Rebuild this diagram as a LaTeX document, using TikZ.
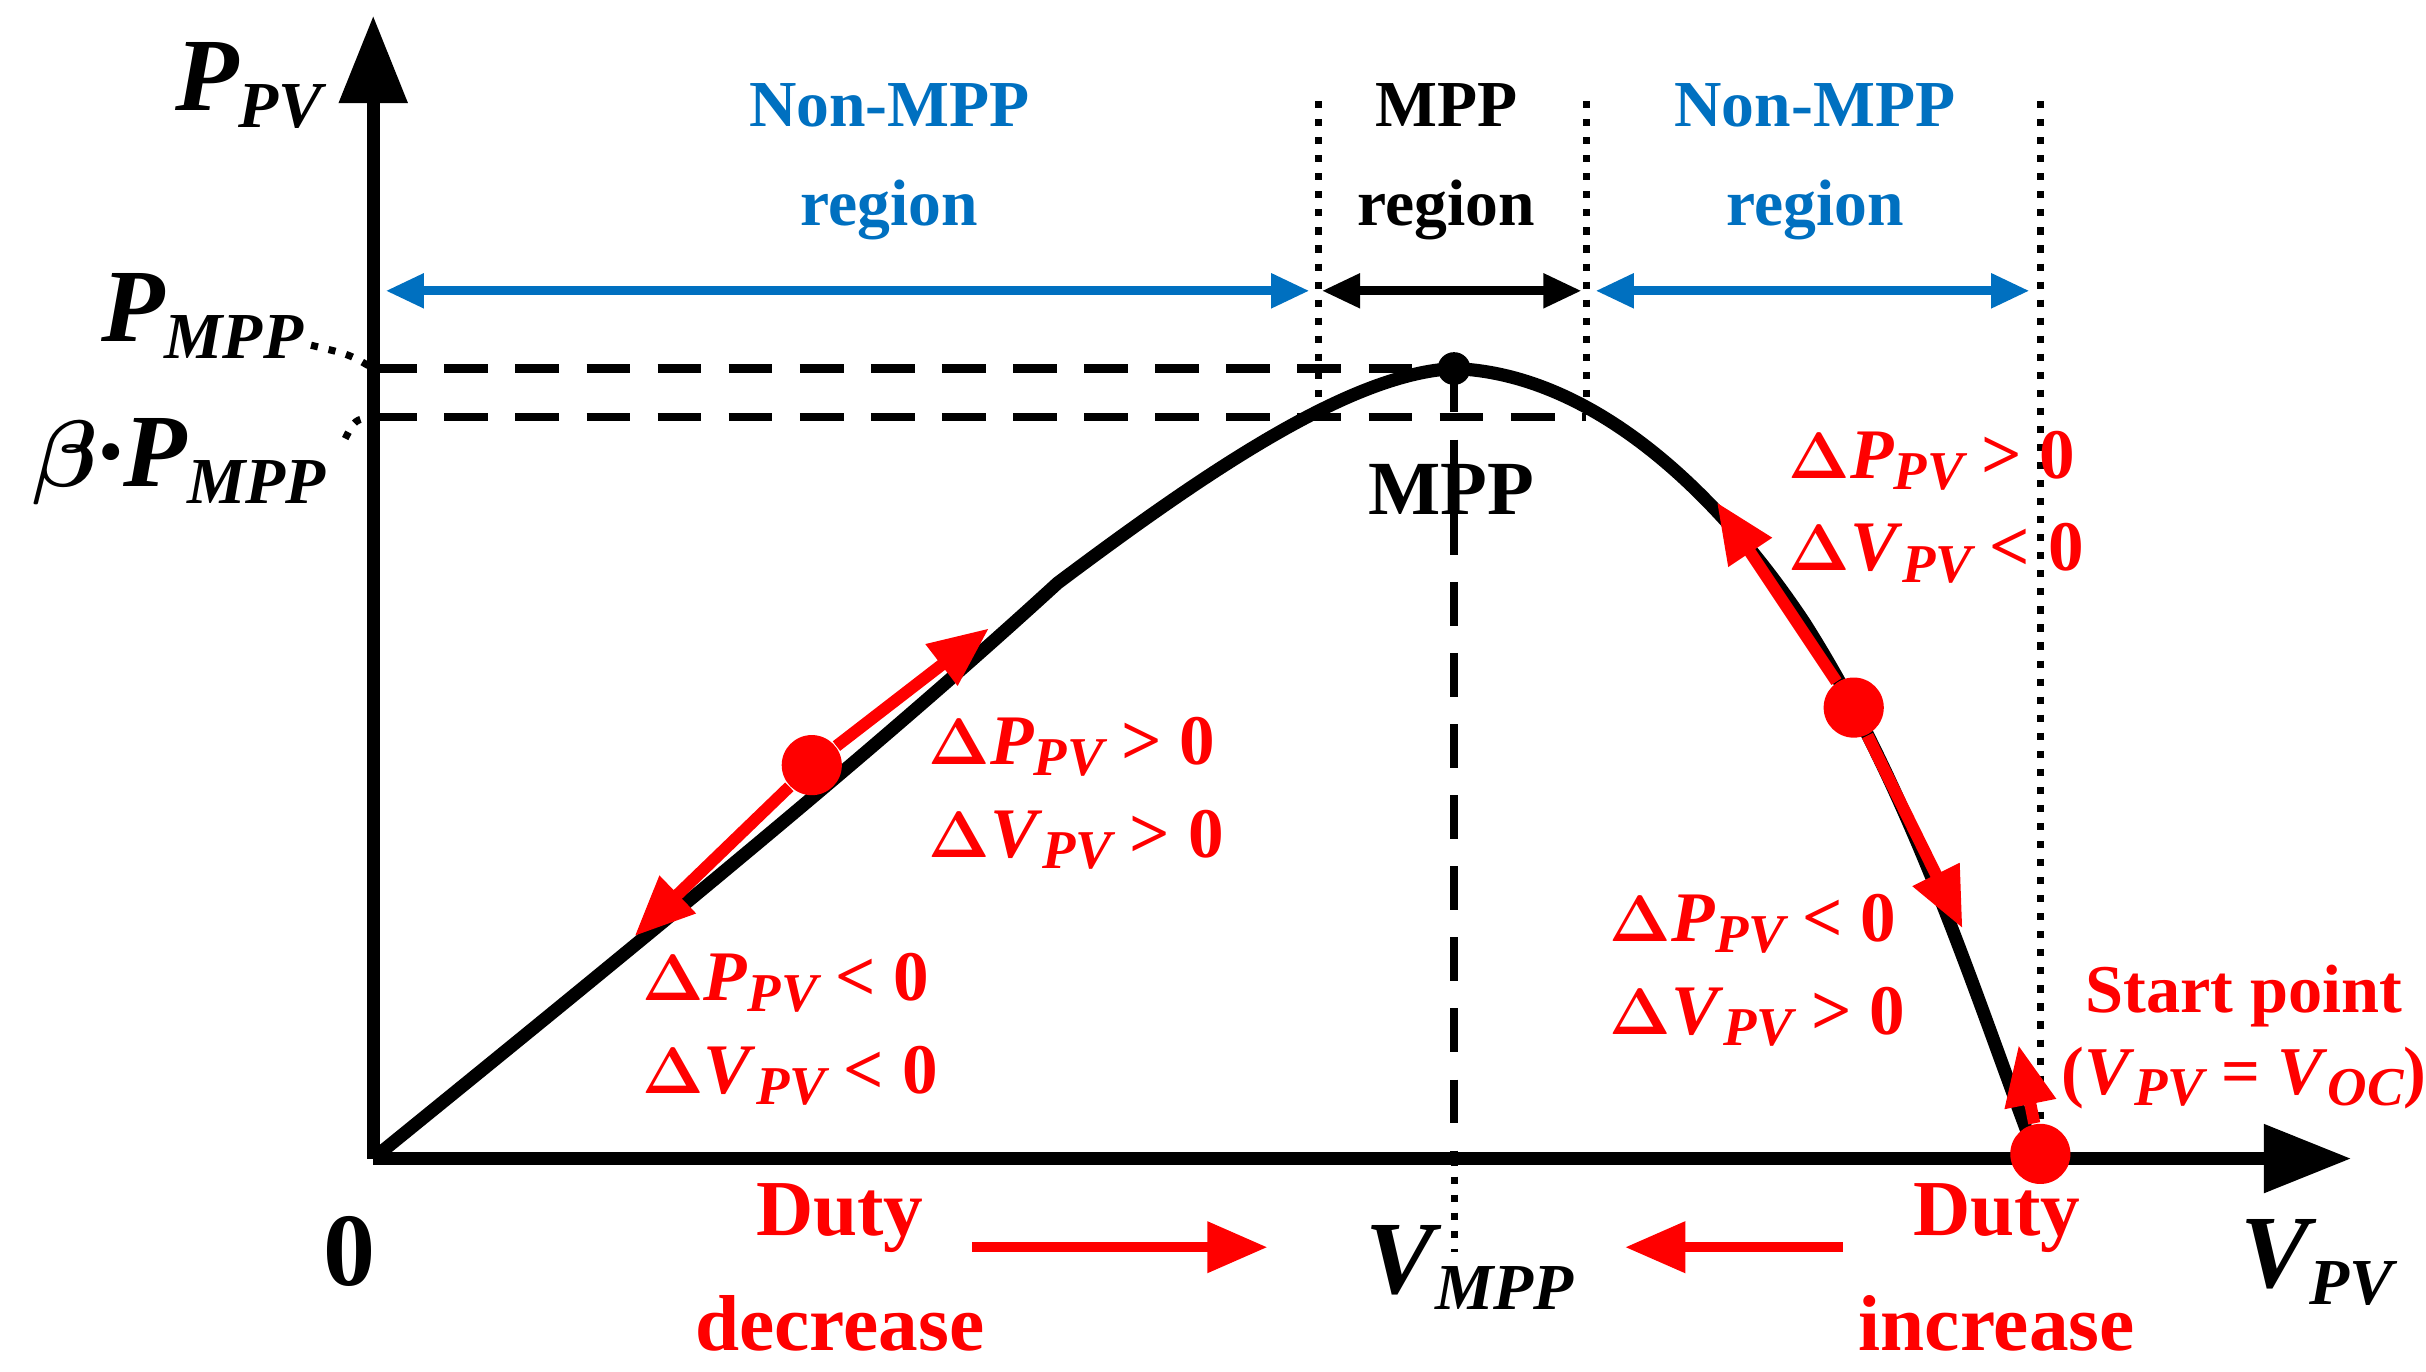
\documentclass[tikz,border=0pt]{standalone}
\usepackage{amsmath}
\usepackage{fontspec}
\setmainfont{Liberation Serif}
\usetikzlibrary{arrows.meta}
\definecolor{myblue}{RGB}{0,112,192}
\definecolor{myred}{RGB}{255,0,0}
\begin{document}
\begin{tikzpicture}[x=0.01cm,y=-0.01cm,
  lbl/.style={font=\bfseries\fontsize{12}{14}\selectfont,align=center,inner sep=0},
  big/.style={font=\bfseries\itshape\fontsize{19}{22}\selectfont,inner sep=0},
  rlbl/.style={font=\bfseries\fontsize{13}{17}\selectfont,text=myred,align=left,inner sep=0},
  harrow/.style={line width=1.6pt,{Triangle[length=7pt,width=6pt]}-{Triangle[length=7pt,width=6pt]}},
  redarr/.style={myred,line width=2.2pt,-{Triangle[length=11pt,width=9pt]}},
  dot/.style={circle,fill=#1,inner sep=0,minimum size=#1}]
\useasboundingbox (0,0) rectangle (1560,882);
% axes
\coordinate (O) at (240,745);
\coordinate (Ytop) at (240,10);
\coordinate (Xend) at (1512,745);
\draw[line width=2.4pt,-{Triangle[length=16pt,width=12pt]}] (O) -- (Ytop);
\draw[line width=2.4pt,-{Triangle[length=16pt,width=12pt]}] (O) -- (Xend);
% dotted verticals
\draw[dotted,line width=1.3pt] (848,65) -- (848,268);
\draw[dotted,line width=1.3pt] (1020,65) -- (1020,268);
\draw[dotted,line width=1.3pt] (1312,65) -- (1312,745);
% dashed
\draw[line width=1.5pt,dash pattern=on 8pt off 5pt] (240,237) -- (935,237);
\draw[line width=1.5pt,dash pattern=on 8pt off 5pt] (240,268) -- (1020,268);
\draw[line width=1.5pt,dash pattern=on 8pt off 5pt] (935,237) -- (935,745);
\draw[dotted,line width=1.3pt] (935,745) -- (935,805);
% curve
\draw[line width=2.4pt] (240,745) .. controls (400,615) and (560,485) .. (680,375)
  .. controls (780,300) and (870,240) .. (935,237)
  .. controls (1020,240) and (1100,310) .. (1160,400)
  .. controls (1230,510) and (1270,640) .. (1310,745);
\node[circle,fill=black,inner sep=0,minimum size=6pt] (mpp) at (935,237) {};
% region arrows
\draw[harrow,myblue] (248,187) -- (842,187);
\draw[harrow] (850,187) -- (1017,187);
\draw[harrow,myblue] (1026,187) -- (1305,187);
\node[lbl,text=myblue] (r1) at (572,104) {Non-MPP\\[4pt]region};
\node[lbl] (r2) at (930,104) {MPP\\[4pt]region};
\node[lbl,text=myblue] (r3) at (1167,104) {Non-MPP\\[4pt]region};
% axis labels
\node[big] (ppv) at (160,55) {P\raisebox{-0.35ex}{\fontsize{12}{14}\selectfont PV}};
\node[big] (pmpp) at (130,203) {P\raisebox{-0.35ex}{\fontsize{12}{14}\selectfont MPP}};
\node[big] (bpmpp) at (115,297) {$\boldsymbol{\beta}$\textperiodcentered P\raisebox{-0.35ex}{\fontsize{12}{14}\selectfont MPP}};
\draw[dotted,line width=1.3pt] (200,222) .. controls (225,228) .. (240,237);
\draw[dotted,line width=1.3pt] (222,282) .. controls (228,270) .. (240,268);
\node[font=\bfseries\fontsize{19}{22}\selectfont,inner sep=0] (zero) at (225,805) {0};
\node[big] (vmpp) at (945,815) {V\raisebox{-0.35ex}{\fontsize{12}{14}\selectfont MPP}};
\node[big] (vpv) at (1490,812) {V\raisebox{-0.35ex}{\fontsize{12}{14}\selectfont PV}};
\node[font=\bfseries\fontsize{14}{16}\selectfont,inner sep=0] (mpplbl) at (933,315) {MPP};
% red arrows
\node[circle,fill=myred,inner sep=0,minimum size=11pt] (d1) at (522,492) {};
\coordinate (a1) at (636,404);
\coordinate (a2) at (408,602);
\draw[redarr] (d1) -- (a1);
\draw[redarr] (d1) -- (a2);
\node[circle,fill=myred,inner sep=0,minimum size=11pt] (d2) at (1192,455) {};
\coordinate (a3) at (1104,323);
\coordinate (a4) at (1262,597);
\draw[redarr] (d2) -- (a3);
\draw[redarr] (d2) -- (a4);
\node[circle,fill=myred,inner sep=0,minimum size=11pt] (d3) at (1312,742) {};
\coordinate (a5) at (1298,672);
\draw[redarr] (d3) -- (a5);
% red labels
\newcommand{\sbx}[1]{\raisebox{-0.35ex}{\itshape\fontsize{10}{12}\selectfont #1}}
\newcommand{\dlt}{$\boldsymbol{\Delta}$}
\node[rlbl] (t1) at (692,510) {\dlt\textit{P}\sbx{PV} > 0\\[0pt]\dlt\textit{V}\sbx{PV} > 0};
\node[rlbl] (t2) at (508,662) {\dlt\textit{P}\sbx{PV} < 0\\[0pt]\dlt\textit{V}\sbx{PV} < 0};
\node[rlbl] (t3) at (1245,326) {\dlt\textit{P}\sbx{PV} > 0\\[0pt]\dlt\textit{V}\sbx{PV} < 0};
\node[rlbl] (t4) at (1130,624) {\dlt\textit{P}\sbx{PV} < 0\\[0pt]\dlt\textit{V}\sbx{PV} > 0};
\node[font=\bfseries\fontsize{12.5}{15}\selectfont,text=myred,align=center,inner sep=0] (sp) at (1443,667) {Start point\\(\textit{V}\sbx{PV} = \textit{V}\sbx{OC})};
\node[font=\bfseries\fontsize{14.5}{17}\selectfont,text=myred,align=center,inner sep=0] (dd) at (540,815) {Duty\\[4pt]decrease};
\node[font=\bfseries\fontsize{14.5}{17}\selectfont,text=myred,align=center,inner sep=0] (di) at (1284,815) {Duty\\[4pt]increase};
\coordinate (b1) at (625,802); \coordinate (b2) at (815,802);
\coordinate (b3) at (1185,802); \coordinate (b4) at (1045,802);
\draw[redarr,line width=1.8pt] (b1) -- (b2);
\draw[redarr,line width=1.8pt] (b3) -- (b4);
\end{tikzpicture}
\end{document}
